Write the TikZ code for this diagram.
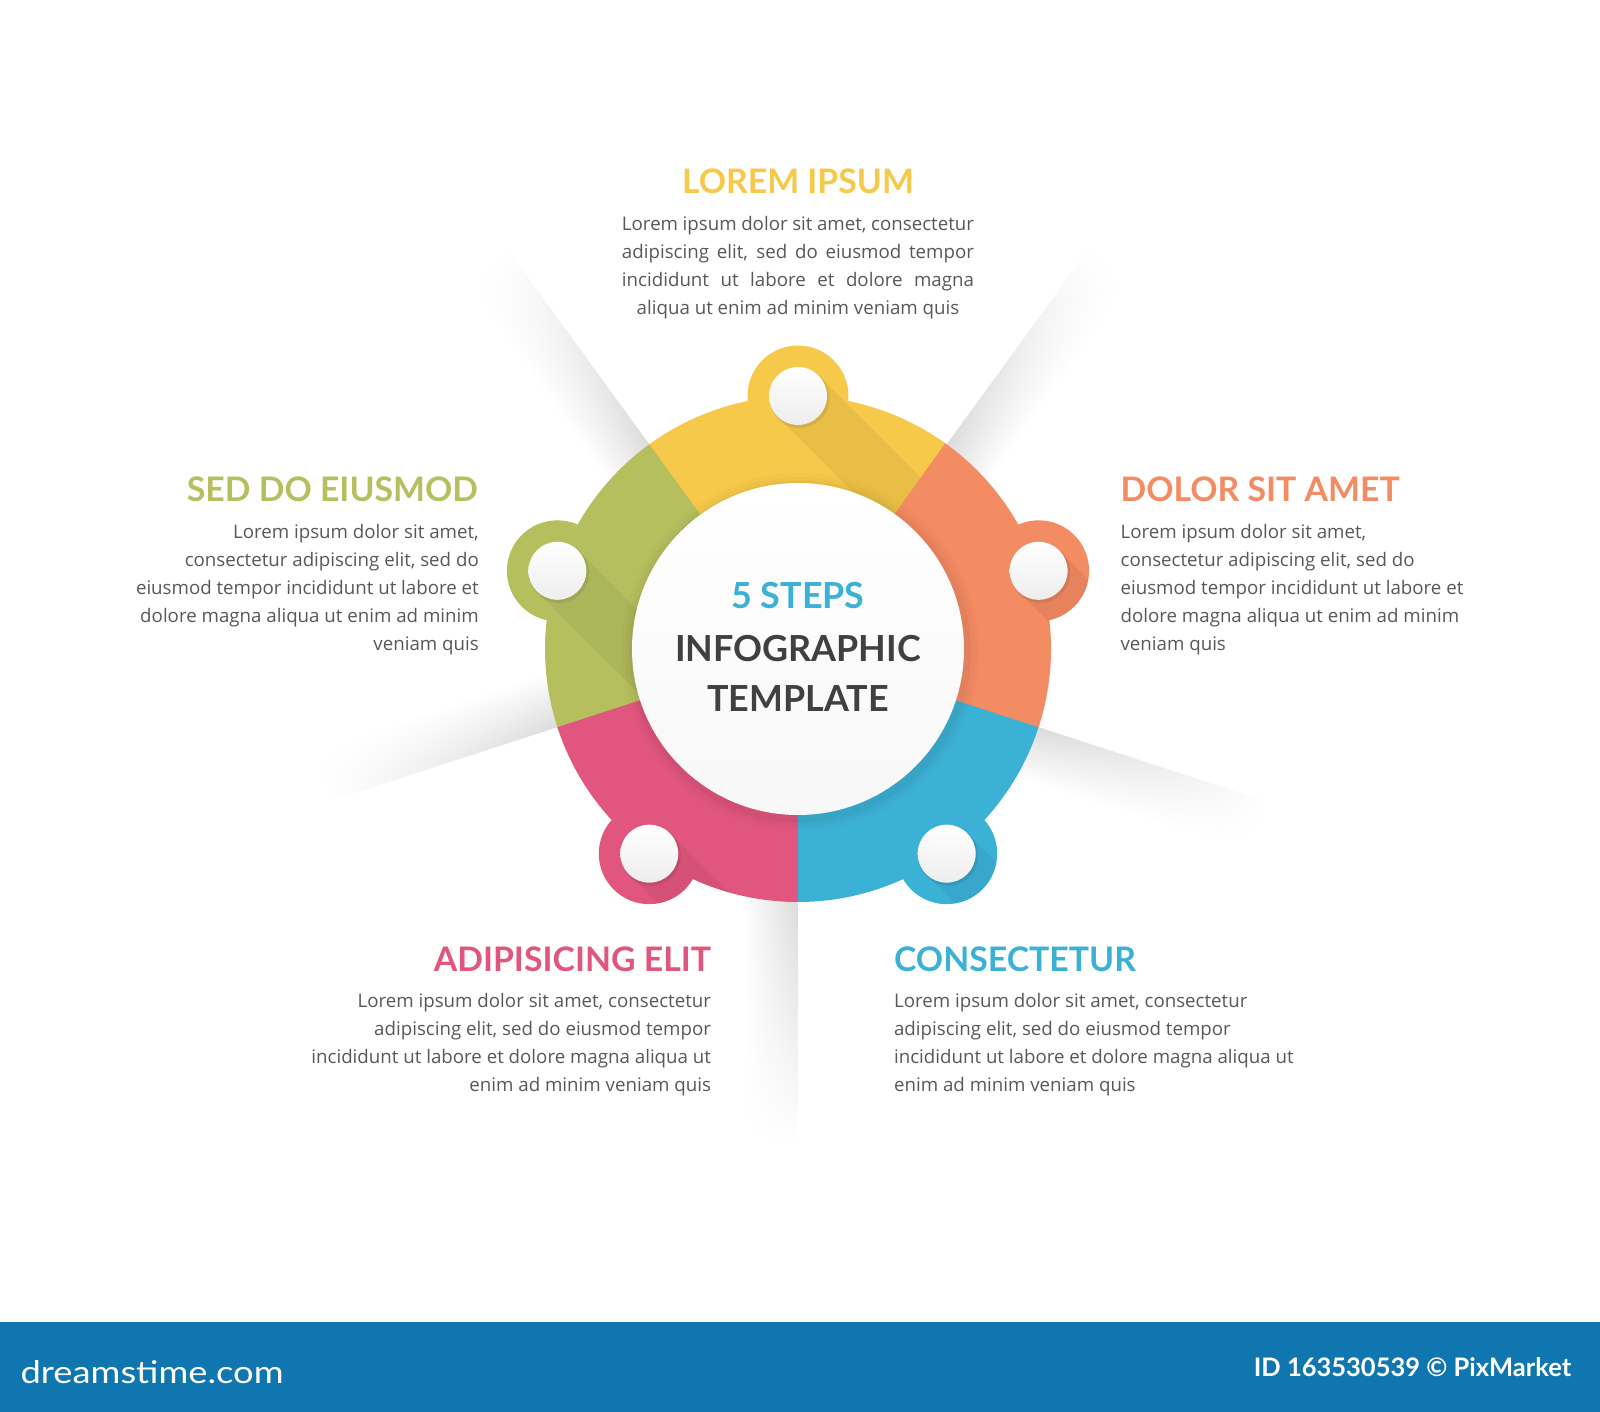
\documentclass[tikz,border=0pt]{standalone}
\usepackage{fontspec}
\usepackage{graphicx}
\usetikzlibrary{fadings}
\newfontfamily\latofont{Lato}
\newfontfamily\sansfont{Open Sans}

\definecolor{cyellow}{RGB}{246,201,74}
\definecolor{corange}{RGB}{243,139,99}
\definecolor{cgreen}{RGB}{181,191,94}
\definecolor{cpink}{RGB}{225,86,126}
\definecolor{cblue}{RGB}{60,177,214}
\definecolor{textgray}{RGB}{88,88,88}
\definecolor{hubgray}{RGB}{64,64,64}
\definecolor{barblue}{RGB}{16,118,176}

\tikzfading[name=rayfade, left color=transparent!0, right color=transparent!100]

\tikzset{
  title/.style={inner sep=0pt, font=\latofont\bfseries\fontsize{33.8}{40}\selectfont},
  blurb/.style={inner sep=0pt, text=textgray, font=\sansfont\fontsize{18.7}{28}\selectfont},
  hubtext/.style={inner sep=0pt, anchor=base, font=\latofont\bfseries\fontsize{35.9}{43}\selectfont},
  dotball/.style={circle, inner sep=0pt, minimum size=58pt, top color=white, bottom color=black!7},
}
\newcommand{\firstline}{\rule{0pt}{20pt}}

\begin{document}
\begin{tikzpicture}[x=1pt, y=1pt]
    \useasboundingbox (-798,-763) rectangle (802,649);

    % soft rays behind the ring
    \foreach \ang/\side in {54/-1, 126/1, 198/-1, 270/-1, 342/-1}{
      \begin{scope}[transform canvas={rotate=\ang, yscale=\side}]
        \shade[bottom color=black!17, top color=white, path fading=rayfade] (200,0) rectangle (495,55);
      \end{scope}
    }

    % ring with tabs
    \foreach \ang/\col in {90/cyellow, 162/cgreen, 234/cpink, 306/cblue, 18/corange}{
      \fill[\col] (0,0) -- (\ang-36:253) arc[start angle=\ang-36, end angle=\ang+36.4, radius=253] -- cycle;
      \fill[\col] (\ang:253) circle[radius=50.5];
      \begin{scope}
        \clip (0,0) -- (\ang-36:253) arc[start angle=\ang-36, end angle=\ang+36, radius=253] -- cycle
              (\ang:253) circle[radius=50.5];
        \fill[black, opacity=0.05, shift={(\ang:253)}, rotate=-45] (0,-29) rectangle (260,29);
      \end{scope}
    }

    % centre disc
    \foreach \r/\op in {179/0.015, 175/0.02, 171/0.03}
      \fill[black, opacity=\op] (2,-3) circle[radius=\r];
    \node[circle, inner sep=0pt, minimum size=332pt, top color=white, bottom color=black!3] (hub) at (0,0) {};

    \foreach \ang [count=\i] in {90, 18, 306, 234, 162}{
      \fill[black, opacity=0.08] (\ang:253) ++(1.5,-2) circle[radius=30];
      \node[dotball] (dot\i) at (\ang:253) {};
    }

    \node[hubtext, text=cblue] (steps) at (0,40) {5 STEPS};
    \node[hubtext, text=hubgray] (info) at (0,-12.5) {INFOGRAPHIC};
    \node[hubtext, text=hubgray] (tmpl) at (0,-62.5) {TEMPLATE};

    % step 1
    \node[title, anchor=base, text=cyellow] (title1) at (0,455) {LOREM IPSUM};
    \node[blurb, anchor=north, align=center] (text1) at (0,439)
      {\firstline\makebox[352pt][s]{Lorem ipsum dolor sit amet, consectetur}\\
       \makebox[352pt][s]{adipiscing elit, sed do eiusmod tempor}\\
       \makebox[352pt][s]{incididunt ut labore et dolore magna}\\
       aliqua ut enim ad minim veniam quis};

    % step 2
    \node[title, anchor=base west, text=corange] (title2) at (322.4,147.5) {DOLOR SIT AMET};
    \node[blurb, anchor=north west, align=left] (text2) at (322.4,131)
      {\firstline Lorem ipsum dolor sit amet,\\
       consectetur adipiscing elit, sed do\\
       eiusmod tempor incididunt ut labore et\\
       dolore magna aliqua ut enim ad minim\\
       veniam quis};

    % step 3
    \node[title, anchor=base west, text=cblue] (title3) at (95.9,-322.5) {CONSECTETUR};
    \node[blurb, anchor=north west, align=left] (text3) at (95.9,-338.3)
      {\firstline Lorem ipsum dolor sit amet, consectetur\\
       adipiscing elit, sed do eiusmod tempor\\
       incididunt ut labore et dolore magna aliqua ut\\
       enim ad minim veniam quis};

    % step 4
    \node[title, anchor=base east, text=cpink] (title4) at (-86.8,-322.5) {ADIPISICING ELIT};
    \node[blurb, anchor=north east, align=right] (text4) at (-86.8,-338.3)
      {\firstline Lorem ipsum dolor sit amet, consectetur\\
       adipiscing elit, sed do eiusmod tempor\\
       incididunt ut labore et dolore magna aliqua ut\\
       enim ad minim veniam quis};

    % step 5
    \node[title, anchor=base east, text=cgreen] (title5) at (-319.7,147.5) {SED DO EIUSMOD};
    \node[blurb, anchor=north east, align=right] (text5) at (-319,131)
      {\firstline Lorem ipsum dolor sit amet,\\
       consectetur adipiscing elit, sed do\\
       eiusmod tempor incididunt ut labore et\\
       dolore magna aliqua ut enim ad minim\\
       veniam quis};

    % footer bar
    \fill[barblue] (-798,-673) rectangle (802,-763);
    \node[anchor=base west, inner sep=0pt, text=white] (site) at (-777.6,-734)
      {\resizebox{263pt}{23pt}{\latofont dreamstime.com}};
    \node[anchor=base east, inner sep=0pt, text=white, font=\latofont\bfseries\fontsize{25.5}{30}\selectfont] (imgid) at (773.4,-727) {ID 163530539 © PixMarket};
\end{tikzpicture}
\end{document}
